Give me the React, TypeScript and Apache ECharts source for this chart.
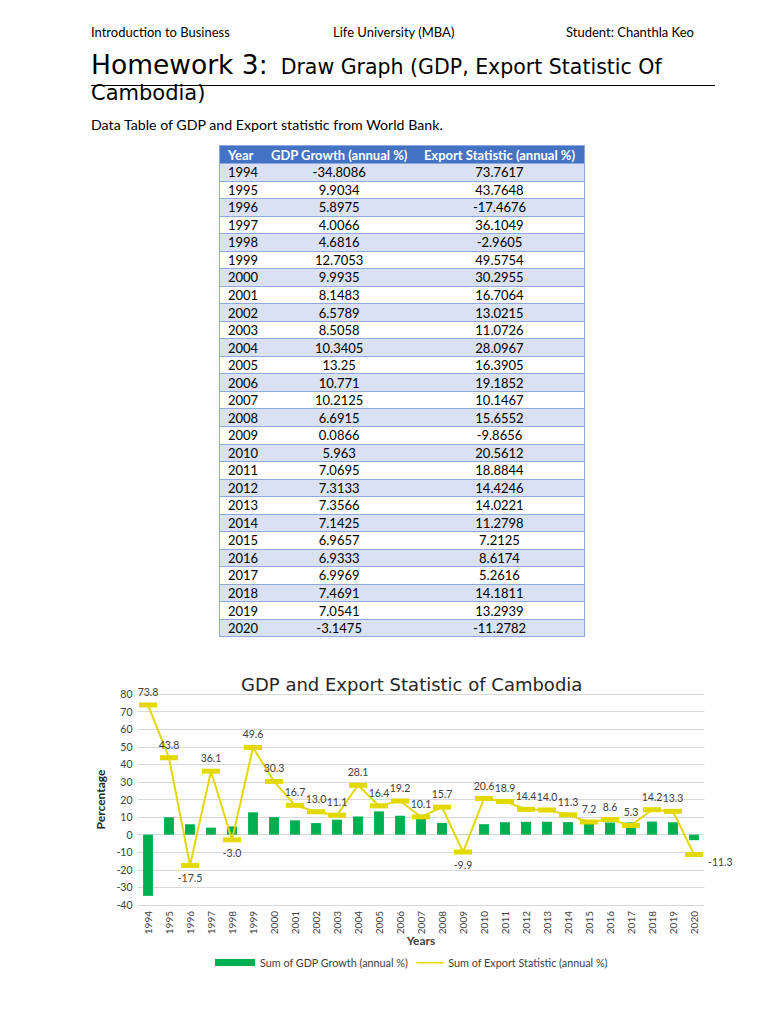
import React, { useEffect, useRef } from "react";
import * as echarts from "echarts";

const years = ["1994","1995","1996","1997","1998","1999","2000","2001","2002","2003","2004","2005","2006","2007","2008","2009","2010","2011","2012","2013","2014","2015","2016","2017","2018","2019","2020"];
const gdpGrowth = [-34.8086, 9.9034, 5.8975, 4.0066, 4.6816, 12.7053, 9.9935, 8.1483, 6.5789, 8.5058, 10.3405, 13.25, 10.771, 10.2125, 6.6915, 0.0866, 5.963, 7.0695, 7.3133, 7.3566, 7.1425, 6.9657, 6.9333, 6.9969, 7.4691, 7.0541, -3.1475];
const exportStat = [73.7617, 43.7648, -17.4676, 36.1049, -2.9605, 49.5754, 30.2955, 16.7064, 13.0215, 11.0726, 28.0967, 16.3905, 19.1852, 10.1467, 15.6552, -9.8656, 20.5612, 18.8844, 14.4246, 14.0221, 11.2798, 7.2125, 8.6174, 5.2616, 14.1811, 13.2939, -11.2782];
const tableHeaders = ["Year", "GDP Growth (annual %)", "Export Statistic (annual %)"];
const gdpName = "Sum of GDP Growth (annual %)";
const exportName = "Sum of Export Statistic (annual %)";

const GREEN = "#00B050";
const YELLOW = "#E3D800";

function Chart() {
  const ref = useRef<HTMLDivElement>(null);
  useEffect(() => {
    if (!ref.current) return;
    const chart = echarts.init(ref.current, undefined, { renderer: "svg" });
    const last = exportStat.length - 1;
    const lineData = exportStat.map((v, i) => ({
      value: v,
      label: i === last
        ? { position: "right", offset: [0, 8] }
        : { position: v < 0 ? "bottom" : "top" },
    }));
    chart.setOption({
      animation: false,
      title: {
        text: "GDP and Export Statistic of Cambodia",
        left: 181,
        top: 10,
        padding: 0,
        textStyle: { fontFamily: "DejaVu Sans", fontSize: 18, fontWeight: "normal", color: "#262626" },
      },
      grid: { left: 77.5, right: 45.5, top: 29, bottom: 80, outerBoundsMode: "none", containLabel: false },
      legend: {
        top: 292,
        left: 155,
        padding: 0,
        itemWidth: 40,
        itemHeight: 7,
        itemGap: -5,
        textStyle: { fontFamily: "Lato", fontSize: 10.8, color: "#404040" },
        data: [
          { name: gdpName, icon: "path://M0,0 L40,0 L40,7 L0,7 Z" },
          { name: exportName, icon: "path://M0,0 L0.01,0 L0,0.01 Z M13,3 L40,3 L40,4.6 L13,4.6 Z M40,7 L39.99,7 L40,6.99 Z" },
        ],
      },
      xAxis: {
        type: "category",
        data: years,
        name: "Years",
        nameLocation: "middle",
        nameGap: 29,
        nameMoveOverlap: false,
        nameTextStyle: { fontFamily: "Lato", fontSize: 12, fontWeight: "bold", color: "#404040" },
        axisLine: { show: false, onZero: false },
        axisTick: { show: false },
        axisLabel: { rotate: 90, fontFamily: "Lato", fontSize: 10, color: "#404040", margin: 6, interval: 0 },
      },
      yAxis: {
        type: "value",
        min: -40,
        max: 80,
        interval: 10,
        name: "Percentage",
        nameLocation: "middle",
        nameGap: 31,
        nameMoveOverlap: false,
        nameTextStyle: { fontFamily: "Lato", fontSize: 12, fontWeight: "bold", color: "#262626" },
        axisLine: { show: false },
        axisTick: { show: false },
        axisLabel: { fontFamily: "Lato", fontSize: 10.5, color: "#404040", margin: 5 },
        splitLine: { lineStyle: { color: "#D9D9D9", width: 1 } },
      },
      series: [
        {
          name: gdpName,
          type: "bar",
          data: gdpGrowth,
          barWidth: "47%",
          itemStyle: { color: GREEN },
        },
        {
          name: exportName,
          type: "line",
          data: lineData,
          symbol: "rect",
          symbolSize: [18, 5],
          itemStyle: { color: YELLOW },
          lineStyle: { color: YELLOW, width: 2 },
          label: {
            show: true,
            fontFamily: "Lato",
            fontSize: 10.5,
            color: "#404040",
            formatter: (p: any) => Number(p.value).toFixed(1),
          },
        },
      ],
    });
    return () => chart.dispose();
  }, []);
  return <div ref={ref} style={{ position: "absolute", left: 60, top: 665, width: 690, height: 320 }} />;
}

export default function App() {
  const border = "1px solid #8EA9DB";
  return (
    <div style={{ position: "absolute", left: 0, top: 0, width: 768, height: 1024, background: "#fff", fontFamily: "Lato", color: "#000", overflow: "hidden" }}>
      <div style={{ position: "absolute", left: 91, top: 24, fontSize: 13 }}>Introduction to Business</div>
      <div style={{ position: "absolute", left: 333, top: 24, fontSize: 13 }}>Life University (MBA)</div>
      <div style={{ position: "absolute", left: 566, top: 24, fontSize: 13 }}>Student: Chanthla Keo</div>
      <div style={{ position: "absolute", left: 91, top: 49, fontFamily: "DejaVu Sans", whiteSpace: "nowrap", lineHeight: "32px" }}>
        <span style={{ fontSize: 26.5 }}>Homework 3:</span>
        <span style={{ fontSize: 20.5 }}>&nbsp; Draw Graph (GDP, Export Statistic Of</span>
      </div>
      <div style={{ position: "absolute", left: 91, top: 85, width: 624, height: 1, background: "#000" }} />
      <div style={{ position: "absolute", left: 91, top: 79, fontFamily: "DejaVu Sans", fontSize: 21, lineHeight: "28px", whiteSpace: "nowrap" }}>Cambodia)</div>
      <div style={{ position: "absolute", left: 91, top: 116, fontSize: 14.2 }}>Data Table of GDP and Export statistic from World Bank.</div>
      <table style={{ position: "absolute", left: 219, top: 145, width: 366, borderCollapse: "collapse", fontSize: 13, fontFamily: "Lato", border }}>
        <colgroup>
          <col style={{ width: 44 }} />
          <col style={{ width: 152 }} />
          <col style={{ width: 170 }} />
        </colgroup>
        <thead>
          <tr style={{ height: 18, background: "#4472C4", color: "#fff", fontWeight: "bold" }}>
            {tableHeaders.map((h, i) => (
              <th key={h} style={{ padding: i === 0 ? "0 0 0 8px" : 0, textAlign: i === 0 ? "left" : "center", fontWeight: "bold", whiteSpace: "nowrap" }}>{h}</th>
            ))}
          </tr>
        </thead>
        <tbody>
          {years.map((y, i) => (
            <tr key={y} style={{ height: 17.54, background: i % 2 === 0 ? "#D9E1F2" : "#fff", borderTop: border }}>
              <td style={{ padding: "0 0 0 8px", lineHeight: "16px" }}>{y}</td>
              <td style={{ padding: 0, textAlign: "center", lineHeight: "16px" }}>{String(gdpGrowth[i])}</td>
              <td style={{ padding: 0, textAlign: "center", lineHeight: "16px" }}>{String(exportStat[i])}</td>
            </tr>
          ))}
        </tbody>
      </table>
      <Chart />
    </div>
  );
}
